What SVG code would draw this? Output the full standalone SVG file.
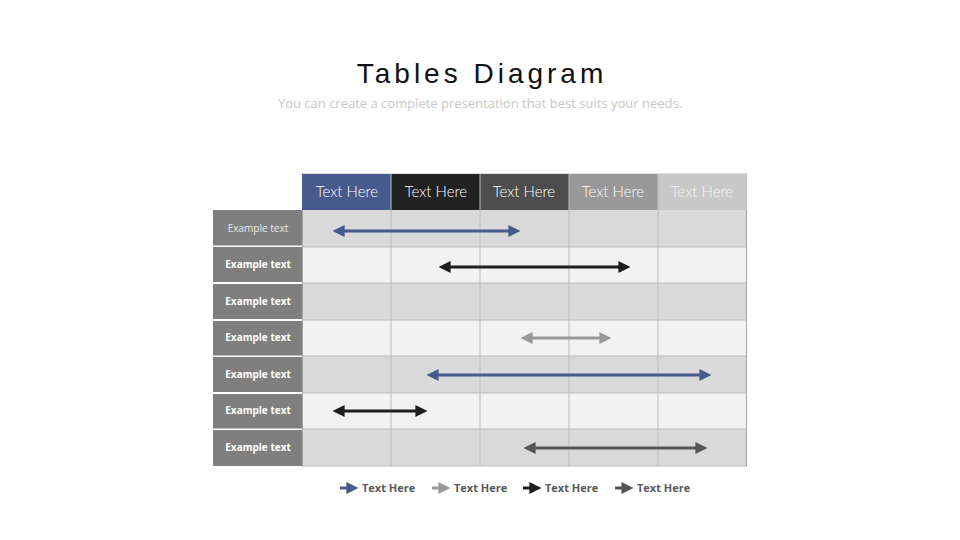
<svg xmlns="http://www.w3.org/2000/svg" width="960" height="540" viewBox="0 0 960 540">
<style>
.title{font-family:"Liberation Sans",Arial,sans-serif;font-size:28px;fill:#111;letter-spacing:4px}
.sub{font-family:"Open Sans",Lato,sans-serif;font-size:13px;fill:#c8c8c8}
.hd{font-family:Lato,"Open Sans",sans-serif;font-weight:300;font-size:15px;fill:#fff}
.lbl{font-family:"Open Sans",Lato,sans-serif;font-weight:700;font-size:10px;fill:#fff}
.lbl1{font-family:"Open Sans",Lato,sans-serif;font-weight:400;font-size:10px;fill:#e8e8e8}
.leg{font-family:"Open Sans",Lato,sans-serif;font-weight:700;font-size:11px;fill:#595959}
.dk{fill:#d9d9d9}
.lt{fill:#f2f2f2}
.grid{stroke:#bcbcbc;stroke-width:1}
.rl{fill:#7f7f7f}
.ln{stroke-width:3;fill:none}
</style>
<defs>
<marker id="hBlue" viewBox="0 0 10 10" refX="3" refY="5" markerWidth="12" markerHeight="12" markerUnits="userSpaceOnUse" orient="auto-start-reverse"><path d="M0,0L10,5L0,10Z" fill="#475a8c"/></marker>
<marker id="hBlack" viewBox="0 0 10 10" refX="3" refY="5" markerWidth="12" markerHeight="12" markerUnits="userSpaceOnUse" orient="auto-start-reverse"><path d="M0,0L10,5L0,10Z" fill="#1e1e1e"/></marker>
<marker id="hGrey" viewBox="0 0 10 10" refX="3" refY="5" markerWidth="12" markerHeight="12" markerUnits="userSpaceOnUse" orient="auto-start-reverse"><path d="M0,0L10,5L0,10Z" fill="#999"/></marker>
<marker id="hDark" viewBox="0 0 10 10" refX="3" refY="5" markerWidth="12" markerHeight="12" markerUnits="userSpaceOnUse" orient="auto-start-reverse"><path d="M0,0L10,5L0,10Z" fill="#555"/></marker>
</defs>
<rect width="960" height="540" fill="#fff"/>
<g id="title">
<text class="title" x="482" y="83" text-anchor="middle">Tables Diagram</text>
<text class="sub" x="480" y="108" text-anchor="middle">You can create a complete presentation that best suits your needs.</text>
</g>
<g id="table">
<rect class="dk" x="302" y="210" width="445" height="37"/>
<rect class="lt" x="302" y="247" width="445" height="36"/>
<rect class="dk" x="302" y="283" width="445" height="37"/>
<rect class="lt" x="302" y="320" width="445" height="36"/>
<rect class="dk" x="302" y="356" width="445" height="37"/>
<rect class="lt" x="302" y="393" width="445" height="36"/>
<rect class="dk" x="302" y="429" width="445" height="37"/>
<g class="grid">
<line x1="302" y1="247" x2="747" y2="247"/>
<line x1="302" y1="283" x2="747" y2="283"/>
<line x1="302" y1="320" x2="747" y2="320"/>
<line x1="302" y1="356" x2="747" y2="356"/>
<line x1="302" y1="393" x2="747" y2="393"/>
<line x1="302" y1="429" x2="747" y2="429"/>
<line x1="302" y1="466" x2="747" y2="466"/>
<line x1="391" y1="210" x2="391" y2="466"/>
<line x1="480" y1="210" x2="480" y2="466"/>
<line x1="569" y1="210" x2="569" y2="466"/>
<line x1="658" y1="210" x2="658" y2="466"/>
<line x1="302" y1="174" x2="747" y2="174"/>
</g>
<line x1="302.5" y1="174" x2="302.5" y2="466" stroke="#a6a6a6"/>
<line x1="746.5" y1="174" x2="746.5" y2="466" stroke="#a6a6a6"/>
</g>
<g id="headers">
<rect x="302" y="174" width="89" height="36" fill="#475a8c"/>
<rect x="391" y="174" width="89" height="36" fill="#222"/>
<rect x="480" y="174" width="89" height="36" fill="#4d4d4d"/>
<rect x="569" y="174" width="89" height="36" fill="#999"/>
<rect x="658" y="174" width="89" height="36" fill="#c8c8c8"/>
<g stroke="#bcbcbc"><line x1="391" y1="174" x2="391" y2="210"/><line x1="480" y1="174" x2="480" y2="210"/><line x1="569" y1="174" x2="569" y2="210"/><line x1="658" y1="174" x2="658" y2="210"/></g>
<text class="hd" x="347" y="197" text-anchor="middle">Text Here</text>
<text class="hd" x="436" y="197" text-anchor="middle">Text Here</text>
<text class="hd" x="524" y="197" text-anchor="middle">Text Here</text>
<text class="hd" x="613" y="197" text-anchor="middle">Text Here</text>
<text class="hd" x="702" y="197" text-anchor="middle" fill-opacity="0.85">Text Here</text>
</g>
<g id="rowlabels">
<rect class="rl" x="213" y="210" width="89" height="35.5"/>
<rect class="rl" x="213" y="247" width="89" height="35"/>
<rect class="rl" x="213" y="284" width="89" height="35"/>
<rect class="rl" x="213" y="321" width="89" height="34.5"/>
<rect class="rl" x="213" y="357" width="89" height="35"/>
<rect class="rl" x="213" y="394" width="89" height="34.5"/>
<rect class="rl" x="213" y="430" width="89" height="36"/>
<text class="lbl1" x="258" y="232" text-anchor="middle">Example text</text>
<text class="lbl" x="258" y="268" text-anchor="middle">Example text</text>
<text class="lbl" x="258" y="305" text-anchor="middle">Example text</text>
<text class="lbl" x="258" y="341" text-anchor="middle">Example text</text>
<text class="lbl" x="258" y="378" text-anchor="middle">Example text</text>
<text class="lbl" x="258" y="414" text-anchor="middle">Example text</text>
<text class="lbl" x="258" y="451" text-anchor="middle">Example text</text>
</g>
<g id="connectors">
<line class="ln" x1="341" y1="231" x2="512" y2="231" stroke="#475a8c" marker-start="url(#hBlue)" marker-end="url(#hBlue)"/>
<line class="ln" x1="447" y1="267" x2="622" y2="267" stroke="#1e1e1e" marker-start="url(#hBlack)" marker-end="url(#hBlack)"/>
<line class="ln" x1="529" y1="338" x2="603" y2="338" stroke="#999" marker-start="url(#hGrey)" marker-end="url(#hGrey)"/>
<line class="ln" x1="435" y1="375" x2="703" y2="375" stroke="#475a8c" marker-start="url(#hBlue)" marker-end="url(#hBlue)"/>
<line class="ln" x1="341" y1="411" x2="419" y2="411" stroke="#1e1e1e" marker-start="url(#hBlack)" marker-end="url(#hBlack)"/>
<line class="ln" x1="532" y1="448" x2="699" y2="448" stroke="#555" marker-start="url(#hDark)" marker-end="url(#hDark)"/>
</g>
<g id="legend">
<line class="ln" x1="340" y1="488" x2="350" y2="488" stroke="#475a8c" marker-end="url(#hBlue)"/>
<line class="ln" x1="432" y1="488" x2="442" y2="488" stroke="#999" marker-end="url(#hGrey)"/>
<line class="ln" x1="523" y1="488" x2="533" y2="488" stroke="#1e1e1e" marker-end="url(#hBlack)"/>
<line class="ln" x1="615" y1="488" x2="625" y2="488" stroke="#555" marker-end="url(#hDark)"/>
<text class="leg" x="362" y="492">Text Here</text>
<text class="leg" x="454" y="492">Text Here</text>
<text class="leg" x="545" y="492">Text Here</text>
<text class="leg" x="637" y="492">Text Here</text>
</g>
</svg>
